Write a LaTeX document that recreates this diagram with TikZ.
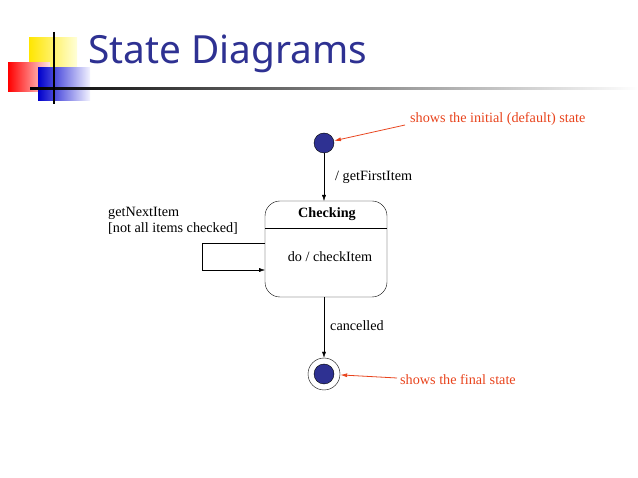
\documentclass[tikz,border=0pt]{standalone}
\usepackage{fontspec}
\setmainfont{Liberation Serif}
\newfontfamily\titlefont{Noto Sans}
\usetikzlibrary{arrows.meta,shadings}
\definecolor{navy}{HTML}{2E3192}
\definecolor{note}{HTML}{E8431C}
\begin{document}
\begin{tikzpicture}[x=1pt,y=-1pt,
  lbl/.style={font=\fontsize{14.2}{16}\selectfont,inner sep=0pt},
  notelbl/.style={lbl,text=note},
  arr/.style={-{Latex[length=6pt,width=4pt]},black},
  notearr/.style={-{Latex[length=7pt,width=4pt]},note,thick}]
\useasboundingbox (0,0) rectangle (638,478);
% logo
\shade[left color=yellow!80!orange, right color=yellow!15] (29,38) rectangle (77,70);
\shade[left color=red, right color=red!10] (8,63) rectangle (50,92);
\shade[left color=blue!80!black, right color=blue!5] (38,68) rectangle (90,101);
\shade[left color=black, right color=white] (30,88) rectangle (638,89.5);
\draw[black,line width=1.2pt] (54,32) -- (54,104);
\node[anchor=base west,inner sep=0pt,text=navy,font=\titlefont\fontsize{38.8}{44}\selectfont] (title) at (88,64) {State Diagrams};
% states
\node[circle,fill=navy,draw=black,minimum size=20pt,inner sep=0pt] (init) at (324,143) {};
\draw[rounded corners=15pt] (265,201) rectangle (387,297);
\coordinate (stTop) at (324,201);
\coordinate (stBot) at (324,297);
\draw (265,228) -- (387,228);
\node[lbl,font=\bfseries\fontsize{14.2}{16}\selectfont] (chk) at (327,214) {Checking};
\node[lbl] (do) at (330,257) {do / checkItem};
\node[circle,draw=black,minimum size=32pt,inner sep=0pt] (fin) at (324,374) {};
\node[circle,fill=navy,draw=black,minimum size=20pt,inner sep=0pt] at (fin) {};
\draw[arr] (init) -- (stTop);
\draw[arr] (stBot) -- (fin);
\coordinate (l1) at (265,243);
\coordinate (l2) at (265,270);
\draw[arr] (l1) -- (202,243) -- (202,270) -- (l2);
\node[lbl,anchor=west] (gfi) at (335,177) {/ getFirstItem};
\node[lbl,anchor=west] (can) at (330,326) {cancelled};
\node[lbl,anchor=north west,align=left] (gni) at (108,207) {getNextItem\\{}[not all items checked]};
% notes
\node[notelbl,anchor=west] (n1) at (410,119) {shows the initial (default) state};
\node[notelbl,anchor=west] (n2) at (400,380) {shows the final state};
\draw[notearr] (405,125) -- (init);
\draw[notearr] (397,378) -- (fin);
\end{tikzpicture}
\end{document}
